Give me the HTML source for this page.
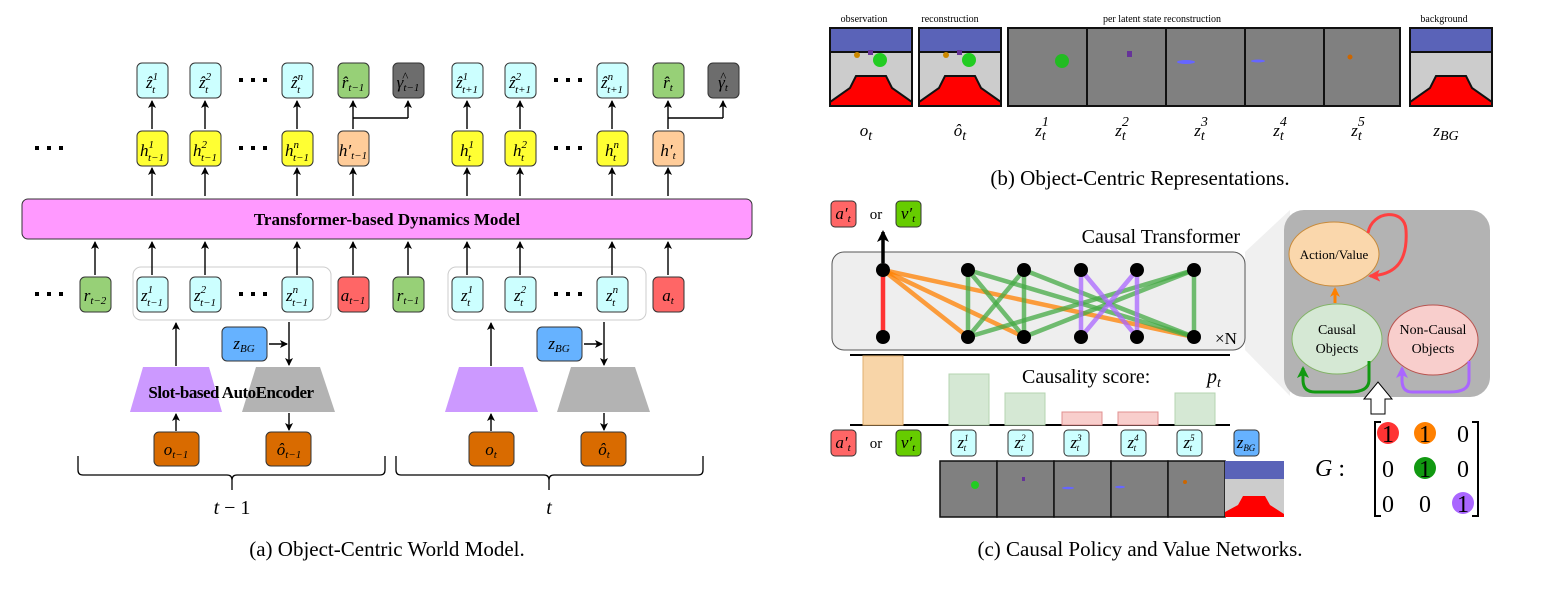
<!DOCTYPE html>
<html><head><meta charset="utf-8"><style>
html,body{margin:0;padding:0;background:#fff;}
svg{display:block;}
text{font-family:"Liberation Serif",serif;}
.m{font-style:italic;font-size:17px;}
.s{font-size:11px;}
</style></head><body>
<svg width="1546" height="596" viewBox="0 0 1546 596" xmlns="http://www.w3.org/2000/svg">
<defs>
<marker id="ar" markerWidth="8" markerHeight="8" refX="7" refY="4" orient="auto" markerUnits="userSpaceOnUse"><path d="M0,0 L8,4 L0,8 L2,4 z" fill="#000"/></marker>
<marker id="arO" markerWidth="10" markerHeight="10" refX="8" refY="5" orient="auto" markerUnits="userSpaceOnUse"><path d="M0,0 L10,5 L0,10 L3,5 z" fill="#ff8000"/></marker>
<marker id="arR" markerWidth="12" markerHeight="12" refX="10" refY="6" orient="auto" markerUnits="userSpaceOnUse"><path d="M0,0 L12,6 L0,12 L3,6 z" fill="#ff4040"/></marker>
<marker id="arG" markerWidth="12" markerHeight="12" refX="10" refY="6" orient="auto" markerUnits="userSpaceOnUse"><path d="M0,0 L12,6 L0,12 L3,6 z" fill="#119911"/></marker>
<marker id="arP" markerWidth="12" markerHeight="12" refX="10" refY="6" orient="auto" markerUnits="userSpaceOnUse"><path d="M0,0 L12,6 L0,12 L3,6 z" fill="#aa66ff"/></marker>
<marker id="arB" markerWidth="12" markerHeight="12" refX="10" refY="6" orient="auto" markerUnits="userSpaceOnUse"><path d="M0,0 L12,6 L0,12 L3,6 z" fill="#000"/></marker>
<g id="d3"><rect x="0" y="0" width="4" height="4"/><rect x="12" y="0" width="4" height="4"/><rect x="24" y="0" width="4" height="4"/></g>
<g id="scene">
<rect x="0" y="0" width="82" height="78" fill="#ccc"/>
<rect x="0" y="0" width="82" height="24" fill="#5a63b8"/>
<polygon points="26,48 56,48 62,60 82,74 82,78 0,78 0,74 20,60" fill="#f00"/>
</g>
</defs>

<!-- ===== Panel (a) ===== -->
<g stroke="#333" stroke-width="1">
<rect x="137" y="63" width="31" height="35" rx="5" fill="#ccffff"/>
<rect x="190" y="63" width="31" height="35" rx="5" fill="#ccffff"/>
<rect x="282" y="63" width="31" height="35" rx="5" fill="#ccffff"/>
<rect x="338" y="63" width="31" height="35" rx="5" fill="#97d077"/>
<rect x="393" y="63" width="31" height="35" rx="5" fill="#6d6d6d"/>
<rect x="452" y="63" width="31" height="35" rx="5" fill="#ccffff"/>
<rect x="505" y="63" width="31" height="35" rx="5" fill="#ccffff"/>
<rect x="597" y="63" width="31" height="35" rx="5" fill="#ccffff"/>
<rect x="653" y="63" width="31" height="35" rx="5" fill="#97d077"/>
<rect x="708" y="63" width="31" height="35" rx="5" fill="#6d6d6d"/>
<rect x="137" y="131" width="31" height="35" rx="5" fill="#ffff33"/>
<rect x="190" y="131" width="31" height="35" rx="5" fill="#ffff33"/>
<rect x="282" y="131" width="31" height="35" rx="5" fill="#ffff33"/>
<rect x="338" y="131" width="31" height="35" rx="5" fill="#ffcc99"/>
<rect x="452" y="131" width="31" height="35" rx="5" fill="#ffff33"/>
<rect x="505" y="131" width="31" height="35" rx="5" fill="#ffff33"/>
<rect x="597" y="131" width="31" height="35" rx="5" fill="#ffff33"/>
<rect x="653" y="131" width="31" height="35" rx="5" fill="#ffcc99"/>
<rect x="22" y="199" width="730" height="40" rx="6" fill="#ff99ff"/>
<rect x="133" y="267" width="198" height="53" rx="8" fill="none" stroke="#ccc"/>
<rect x="448" y="267" width="198" height="53" rx="8" fill="none" stroke="#ccc"/>
<rect x="80" y="277" width="31" height="35" rx="5" fill="#97d077"/>
<rect x="137" y="277" width="31" height="35" rx="5" fill="#ccffff"/>
<rect x="190" y="277" width="31" height="35" rx="5" fill="#ccffff"/>
<rect x="282" y="277" width="31" height="35" rx="5" fill="#ccffff"/>
<rect x="338" y="277" width="31" height="35" rx="5" fill="#ff6666"/>
<rect x="393" y="277" width="31" height="35" rx="5" fill="#97d077"/>
<rect x="452" y="277" width="31" height="35" rx="5" fill="#ccffff"/>
<rect x="505" y="277" width="31" height="35" rx="5" fill="#ccffff"/>
<rect x="597" y="277" width="31" height="35" rx="5" fill="#ccffff"/>
<rect x="653" y="277" width="31" height="35" rx="5" fill="#ff6666"/>
<rect x="222" y="327" width="45" height="34" rx="5" fill="#66b2ff"/>
<rect x="537" y="327" width="45" height="34" rx="5" fill="#66b2ff"/>
<rect x="154" y="432" width="45" height="34" rx="5" fill="#d96b00"/>
<rect x="266" y="432" width="45" height="34" rx="5" fill="#d96b00"/>
<rect x="469" y="432" width="45" height="34" rx="5" fill="#d96b00"/>
<rect x="581" y="432" width="45" height="34" rx="5" fill="#d96b00"/>
</g>
<polygon points="143,367 209,367 222,412 130,412" fill="#cc99ff"/>
<polygon points="256,367 320,367 335,412 242,412" fill="#b3b3b3"/>
<polygon points="459,367 523,367 538,412 445,412" fill="#cc99ff"/>
<polygon points="571,367 635,367 650,412 557,412" fill="#b3b3b3"/>
<text x="231" y="398" text-anchor="middle" font-weight="bold" font-size="17" style="letter-spacing:-0.5px">Slot-based AutoEncoder</text>

<g stroke="#000" stroke-width="1.4" marker-end="url(#ar)">
<line x1="152" y1="129" x2="152" y2="101"/><line x1="205" y1="129" x2="205" y2="101"/><line x1="297" y1="129" x2="297" y2="101"/><line x1="353" y1="129" x2="353" y2="101"/>
<line x1="467" y1="129" x2="467" y2="101"/><line x1="520" y1="129" x2="520" y2="101"/><line x1="612" y1="129" x2="612" y2="101"/><line x1="668" y1="129" x2="668" y2="101"/>
<line x1="408" y1="118" x2="408" y2="101"/><line x1="723" y1="118" x2="723" y2="101"/>
<line x1="152" y1="196" x2="152" y2="168"/><line x1="205" y1="196" x2="205" y2="168"/><line x1="297" y1="196" x2="297" y2="168"/><line x1="353" y1="196" x2="353" y2="168"/>
<line x1="467" y1="196" x2="467" y2="168"/><line x1="520" y1="196" x2="520" y2="168"/><line x1="612" y1="196" x2="612" y2="168"/><line x1="668" y1="196" x2="668" y2="168"/>
<line x1="95" y1="275" x2="95" y2="242"/><line x1="152" y1="275" x2="152" y2="242"/><line x1="205" y1="275" x2="205" y2="242"/><line x1="297" y1="275" x2="297" y2="242"/><line x1="353" y1="275" x2="353" y2="242"/><line x1="408" y1="275" x2="408" y2="242"/>
<line x1="467" y1="275" x2="467" y2="242"/><line x1="520" y1="275" x2="520" y2="242"/><line x1="612" y1="275" x2="612" y2="242"/><line x1="668" y1="275" x2="668" y2="242"/>
<line x1="176" y1="366" x2="176" y2="323"/><line x1="491" y1="366" x2="491" y2="323"/>
<line x1="289" y1="322" x2="289" y2="365"/><line x1="604" y1="322" x2="604" y2="365"/>
<line x1="269" y1="344" x2="287" y2="344"/><line x1="584" y1="344" x2="602" y2="344"/>
<line x1="176" y1="431" x2="176" y2="414"/><line x1="491" y1="431" x2="491" y2="414"/>
<line x1="289" y1="413" x2="289" y2="430"/><line x1="604" y1="413" x2="604" y2="430"/>
</g>
<path d="M353,118 H408 M668,118 H723" stroke="#000" stroke-width="1.4"/>
<g fill="#000">
<use href="#d3" x="35" y="146"/><use href="#d3" x="35" y="292"/>
<use href="#d3" x="239" y="78"/><use href="#d3" x="554" y="78"/>
<use href="#d3" x="239" y="146"/><use href="#d3" x="554" y="146"/>
<use href="#d3" x="239" y="292"/><use href="#d3" x="554" y="292"/>
</g>
<text x="387" y="225" text-anchor="middle" font-weight="bold" font-size="17">Transformer-based Dynamics Model</text>

<g class="m" text-anchor="middle">
<text x="152" y="88">ẑ<tspan class="s" dy="-8">1</tspan><tspan class="s" dx="-6" dy="13">t</tspan></text>
<text x="205" y="88">ẑ<tspan class="s" dy="-8">2</tspan><tspan class="s" dx="-6" dy="13">t</tspan></text>
<text x="297" y="88">ẑ<tspan class="s" dy="-8">n</tspan><tspan class="s" dx="-6" dy="13">t</tspan></text>
<text x="353" y="88">r̂<tspan class="s" dy="3">t−1</tspan></text>
<text x="408" y="88">γ<tspan class="s" dy="3">t−1</tspan></text>
<text x="467" y="88">ẑ<tspan class="s" dy="-8">1</tspan><tspan class="s" dx="-6" dy="13">t+1</tspan></text>
<text x="520" y="88">ẑ<tspan class="s" dy="-8">2</tspan><tspan class="s" dx="-6" dy="13">t+1</tspan></text>
<text x="612" y="88">ẑ<tspan class="s" dy="-8">n</tspan><tspan class="s" dx="-6" dy="13">t+1</tspan></text>
<text x="668" y="88">r̂<tspan class="s" dy="3">t</tspan></text>
<text x="723" y="88">γ<tspan class="s" dy="3">t</tspan></text>
<text x="152" y="156">h<tspan class="s" dy="-8">1</tspan><tspan class="s" dx="-6" dy="13">t−1</tspan></text>
<text x="205" y="156">h<tspan class="s" dy="-8">2</tspan><tspan class="s" dx="-6" dy="13">t−1</tspan></text>
<text x="297" y="156">h<tspan class="s" dy="-8">n</tspan><tspan class="s" dx="-6" dy="13">t−1</tspan></text>
<text x="353" y="156">h′<tspan class="s" dy="3">t−1</tspan></text>
<text x="467" y="156">h<tspan class="s" dy="-8">1</tspan><tspan class="s" dx="-6" dy="13">t</tspan></text>
<text x="520" y="156">h<tspan class="s" dy="-8">2</tspan><tspan class="s" dx="-6" dy="13">t</tspan></text>
<text x="612" y="156">h<tspan class="s" dy="-8">n</tspan><tspan class="s" dx="-6" dy="13">t</tspan></text>
<text x="668" y="156">h′<tspan class="s" dy="3">t</tspan></text>
<text x="95" y="301">r<tspan class="s" dy="3">t−2</tspan></text>
<text x="152" y="301">z<tspan class="s" dy="-8">1</tspan><tspan class="s" dx="-6" dy="13">t−1</tspan></text>
<text x="205" y="301">z<tspan class="s" dy="-8">2</tspan><tspan class="s" dx="-6" dy="13">t−1</tspan></text>
<text x="297" y="301">z<tspan class="s" dy="-8">n</tspan><tspan class="s" dx="-6" dy="13">t−1</tspan></text>
<text x="353" y="301">a<tspan class="s" dy="3">t−1</tspan></text>
<text x="408" y="301">r<tspan class="s" dy="3">t−1</tspan></text>
<text x="467" y="301">z<tspan class="s" dy="-8">1</tspan><tspan class="s" dx="-6" dy="13">t</tspan></text>
<text x="520" y="301">z<tspan class="s" dy="-8">2</tspan><tspan class="s" dx="-6" dy="13">t</tspan></text>
<text x="612" y="301">z<tspan class="s" dy="-8">n</tspan><tspan class="s" dx="-6" dy="13">t</tspan></text>
<text x="668" y="301">a<tspan class="s" dy="3">t</tspan></text>
<text x="244" y="349">z<tspan class="s" dy="3">BG</tspan></text>
<text x="559" y="349">z<tspan class="s" dy="3">BG</tspan></text>
<text x="176" y="455">o<tspan class="s" dy="3">t−1</tspan></text>
<text x="289" y="455">ô<tspan class="s" dy="3">t−1</tspan></text>
<text x="491" y="455">o<tspan class="s" dy="3">t</tspan></text>
<text x="604" y="455">ô<tspan class="s" dy="3">t</tspan></text>
</g>
<text x="402" y="81" font-size="13" font-style="italic">^</text>
<text x="720" y="81" font-size="13" font-style="italic">^</text>
<path d="M78,456 V470 Q78,475 83,475 H227 Q232,475 232,480 Q232,475 237,475 H380 Q385,475 385,470 V456 M232,480 V490" fill="none" stroke="#000" stroke-width="1.3"/>
<path d="M396,456 V470 Q396,475 401,475 H544 Q549,475 549,480 Q549,475 554,475 H698 Q703,475 703,470 V456 M549,480 V490" fill="none" stroke="#000" stroke-width="1.3"/>
<text x="232" y="514" text-anchor="middle" font-size="20" font-style="italic">t <tspan font-style="normal">− 1</tspan></text>
<text x="549" y="514" text-anchor="middle" font-size="20" font-style="italic">t</text>
<text x="387" y="556" text-anchor="middle" font-size="21">(a) Object-Centric World Model.</text>

<!-- ===== Panel (b) ===== -->
<g font-size="10" text-anchor="middle">
<text x="864" y="22">observation</text><text x="950" y="22">reconstruction</text>
<text x="1162" y="22">per latent state reconstruction</text><text x="1444" y="22">background</text>
</g>
<g stroke="#111" stroke-width="2">
<use href="#scene" x="830" y="28"/><rect x="830" y="28" width="82" height="78" fill="none"/>
<use href="#scene" x="919" y="28"/><rect x="919" y="28" width="82" height="78" fill="none"/>
<use href="#scene" x="1410" y="28"/><rect x="1410" y="28" width="82" height="78" fill="none"/>
<rect x="1008" y="28" width="79" height="78" fill="#808080"/>
<rect x="1087" y="28" width="79" height="78" fill="#808080"/>
<rect x="1166" y="28" width="79" height="78" fill="#808080"/>
<rect x="1245" y="28" width="79" height="78" fill="#808080"/>
<rect x="1324" y="28" width="76" height="78" fill="#808080"/>
</g>
<circle cx="880" cy="60" r="7" fill="#22cc22"/><circle cx="969" cy="60" r="7" fill="#22cc22"/>
<circle cx="857" cy="55" r="3" fill="#c80"/><rect x="868" y="50" width="5" height="5" fill="#639"/>
<circle cx="946" cy="55" r="3" fill="#c80"/><rect x="957" y="50" width="5" height="5" fill="#639"/>
<circle cx="1062" cy="61" r="7" fill="#22bb22"/><rect x="1127" y="51" width="5" height="6" fill="#639"/>
<ellipse cx="1186" cy="62" rx="9" ry="2" fill="#66f"/><ellipse cx="1258" cy="61" rx="7" ry="1.5" fill="#66f"/>
<circle cx="1350" cy="57" r="2.5" fill="#c60"/>
<g class="m" font-size="20" text-anchor="middle">
<text x="866" y="136">o<tspan font-size="14" dy="4">t</tspan></text>
<text x="960" y="136">ô<tspan font-size="14" dy="4">t</tspan></text>
<text x="1042" y="136">z<tspan font-size="14" dy="-10">1</tspan><tspan font-size="14" dx="-7" dy="14">t</tspan></text>
<text x="1122" y="136">z<tspan font-size="14" dy="-10">2</tspan><tspan font-size="14" dx="-7" dy="14">t</tspan></text>
<text x="1201" y="136">z<tspan font-size="14" dy="-10">3</tspan><tspan font-size="14" dx="-7" dy="14">t</tspan></text>
<text x="1280" y="136">z<tspan font-size="14" dy="-10">4</tspan><tspan font-size="14" dx="-7" dy="14">t</tspan></text>
<text x="1358" y="136">z<tspan font-size="14" dy="-10">5</tspan><tspan font-size="14" dx="-7" dy="14">t</tspan></text>
<text x="1446" y="136">z<tspan font-size="14" dy="4">BG</tspan></text>
</g>
<text x="1140" y="185" text-anchor="middle" font-size="21">(b) Object-Centric Representations.</text>

<!-- ===== Panel (c) ===== -->
<polygon points="1245,252 1290,210 1290,396 1245,350" fill="#f0f0f0"/>
<rect x="1284" y="210" width="206" height="187" rx="20" fill="#b3b3b3"/>
<rect x="832" y="252" width="413" height="98" rx="12" fill="#eeeeee" stroke="#555"/>
<g stroke-width="4.5" stroke-opacity="0.75" fill="none">
<g stroke="#ff8000"><line x1="883" y1="270" x2="968" y2="337"/><line x1="883" y1="270" x2="1024" y2="337"/><line x1="883" y1="270" x2="1194" y2="337"/></g>
<g stroke="#44aa44"><line x1="968" y1="270" x2="968" y2="337"/><line x1="968" y1="270" x2="1024" y2="337"/><line x1="968" y1="270" x2="1194" y2="337"/>
<line x1="1024" y1="270" x2="968" y2="337"/><line x1="1024" y1="270" x2="1024" y2="337"/><line x1="1024" y1="270" x2="1194" y2="337"/>
<line x1="1194" y1="270" x2="968" y2="337"/><line x1="1194" y1="270" x2="1024" y2="337"/><line x1="1194" y1="270" x2="1194" y2="337"/></g>
<g stroke="#aa66ff"><line x1="1081" y1="270" x2="1081" y2="337"/><line x1="1081" y1="270" x2="1137" y2="337"/><line x1="1137" y1="270" x2="1081" y2="337"/><line x1="1137" y1="270" x2="1137" y2="337"/></g>
<line x1="883" y1="270" x2="883" y2="337" stroke="#ff3333" stroke-opacity="1"/>
</g>
<g fill="#000">
<circle cx="883" cy="270" r="7"/><circle cx="968" cy="270" r="7"/><circle cx="1024" cy="270" r="7"/><circle cx="1081" cy="270" r="7"/><circle cx="1137" cy="270" r="7"/><circle cx="1194" cy="270" r="7"/>
<circle cx="883" cy="337" r="7"/><circle cx="968" cy="337" r="7"/><circle cx="1024" cy="337" r="7"/><circle cx="1081" cy="337" r="7"/><circle cx="1137" cy="337" r="7"/><circle cx="1194" cy="337" r="7"/>
</g>
<line x1="883" y1="263" x2="883" y2="232" stroke="#000" stroke-width="3.5" marker-end="url(#arB)"/>
<text x="1215" y="344" font-size="17">×N</text>
<text x="1240" y="243" text-anchor="end" font-size="20">Causal Transformer</text>
<line x1="850" y1="355" x2="1230" y2="355" stroke="#000" stroke-width="2"/>
<line x1="850" y1="425" x2="1230" y2="425" stroke="#000" stroke-width="2"/>
<rect x="863" y="356" width="40" height="69" fill="#f8d5a8" stroke="#e0b070"/>
<rect x="949" y="374" width="40" height="51" fill="#d5e8d4" stroke="#b5d4b0"/>
<rect x="1005" y="393" width="40" height="32" fill="#d5e8d4" stroke="#b5d4b0"/>
<rect x="1062" y="412" width="40" height="13" fill="#f8cecc" stroke="#e09090"/>
<rect x="1118" y="412" width="40" height="13" fill="#f8cecc" stroke="#e09090"/>
<rect x="1175" y="393" width="40" height="32" fill="#d5e8d4" stroke="#b5d4b0"/>
<text x="1022" y="383" font-size="20">Causality score:</text>
<text x="1207" y="383" font-size="20" font-style="italic">p<tspan font-size="14" dy="4">t</tspan></text>

<g stroke="#333">
<rect x="831" y="201" width="25" height="26" rx="4" fill="#ff6666"/><rect x="896" y="201" width="25" height="26" rx="4" fill="#66cc00"/>
<rect x="831" y="430" width="25" height="26" rx="4" fill="#ff6666"/><rect x="896" y="430" width="25" height="26" rx="4" fill="#66cc00"/>
<rect x="951" y="430" width="25" height="26" rx="4" fill="#ccffff"/><rect x="1008" y="430" width="25" height="26" rx="4" fill="#ccffff"/>
<rect x="1064" y="430" width="25" height="26" rx="4" fill="#ccffff"/><rect x="1121" y="430" width="25" height="26" rx="4" fill="#ccffff"/>
<rect x="1177" y="430" width="25" height="26" rx="4" fill="#ccffff"/><rect x="1234" y="430" width="25" height="26" rx="4" fill="#66b2ff"/>
</g>
<g class="m" font-size="15" text-anchor="middle">
<text x="843" y="219">a′<tspan class="s" dy="3">t</tspan></text><text x="908" y="219">v′<tspan class="s" dy="3">t</tspan></text>
<text x="843" y="448">a′<tspan class="s" dy="3">t</tspan></text><text x="908" y="448">v′<tspan class="s" dy="3">t</tspan></text>
<text x="963" y="448">z<tspan font-size="9" dy="-7">1</tspan><tspan font-size="9" dx="-5" dy="10">t</tspan></text>
<text x="1020" y="448">z<tspan font-size="9" dy="-7">2</tspan><tspan font-size="9" dx="-5" dy="10">t</tspan></text>
<text x="1076" y="448">z<tspan font-size="9" dy="-7">3</tspan><tspan font-size="9" dx="-5" dy="10">t</tspan></text>
<text x="1133" y="448">z<tspan font-size="9" dy="-7">4</tspan><tspan font-size="9" dx="-5" dy="10">t</tspan></text>
<text x="1189" y="448">z<tspan font-size="9" dy="-7">5</tspan><tspan font-size="9" dx="-5" dy="10">t</tspan></text>
<text x="1246" y="448">z<tspan font-size="9" dy="3">BG</tspan></text>
</g>
<text x="876" y="219" font-size="15" text-anchor="middle">or</text>
<text x="876" y="448" font-size="15" text-anchor="middle">or</text>
<g stroke="#111" stroke-width="1.5">
<rect x="940" y="461" width="57" height="56" fill="#808080"/><rect x="997" y="461" width="57" height="56" fill="#808080"/>
<rect x="1054" y="461" width="57" height="56" fill="#808080"/><rect x="1111" y="461" width="57" height="56" fill="#808080"/>
<rect x="1168" y="461" width="57" height="56" fill="#808080"/>
</g>
<rect x="1225" y="461" width="59" height="56" fill="#ccc"/><rect x="1225" y="461" width="59" height="18" fill="#5a63b8"/>
<polygon points="1243,496 1265,496 1270,505 1284,514 1284,517 1225,517 1225,512 1238,505" fill="#f00"/>
<circle cx="975" cy="485" r="4" fill="#22cc22"/><rect x="1022" y="477" width="3" height="4" fill="#639"/>
<ellipse cx="1068" cy="488" rx="6" ry="1.3" fill="#66f"/><ellipse cx="1120" cy="487" rx="5" ry="1.2" fill="#66f"/><circle cx="1185" cy="482" r="2" fill="#c60"/>

<ellipse cx="1334" cy="254" rx="45" ry="32" fill="#fad7ac" stroke="#c88a3a"/>
<ellipse cx="1337" cy="339" rx="45" ry="35" fill="#d5e8d4" stroke="#82b366"/>
<ellipse cx="1433" cy="340" rx="45" ry="35" fill="#f8cecc" stroke="#b85450"/>
<text x="1334" y="259" text-anchor="middle" font-size="13">Action/Value</text>
<text x="1337" y="334" text-anchor="middle" font-size="14">Causal</text><text x="1337" y="353" text-anchor="middle" font-size="14">Objects</text>
<text x="1433" y="334" text-anchor="middle" font-size="14">Non-Causal</text><text x="1433" y="353" text-anchor="middle" font-size="14">Objects</text>
<line x1="1335" y1="303" x2="1335" y2="289" stroke="#ff8000" stroke-width="3" marker-end="url(#arO)"/>
<path d="M1368,233 C1372,210 1405,208 1406,230 C1408,262 1395,275 1370,276" fill="none" stroke="#ff4040" stroke-width="3" marker-end="url(#arR)"/>
<path d="M1369,361 V380 Q1369,392 1350,392 H1315 Q1303,392 1303,380 V368" fill="none" stroke="#119911" stroke-width="3" marker-end="url(#arG)"/>
<path d="M1469,361 V380 Q1469,392 1450,392 H1412 Q1402,392 1402,380 V368" fill="none" stroke="#aa66ff" stroke-width="3" marker-end="url(#arP)"/>
<polygon points="1364,399 1378,382 1392,399 1385,399 1385,414 1371,414 1371,399" fill="#fff" stroke="#000" stroke-width="1"/>
<path d="M1381,422 H1375 V516 H1381 M1472,422 H1478 V516 H1472" fill="none" stroke="#000" stroke-width="2"/>
<circle cx="1388" cy="433" r="11" fill="#ff3333"/><circle cx="1425" cy="433" r="11" fill="#ff8000"/>
<circle cx="1425" cy="468" r="11" fill="#119911"/><circle cx="1463" cy="503" r="11" fill="#aa66ff"/>
<g font-size="24" text-anchor="middle">
<text x="1388" y="442">1</text><text x="1425" y="442">1</text><text x="1463" y="442">0</text>
<text x="1388" y="477">0</text><text x="1425" y="477">1</text><text x="1463" y="477">0</text>
<text x="1388" y="512">0</text><text x="1425" y="512">0</text><text x="1463" y="512">1</text>
</g>
<text x="1330" y="476" text-anchor="middle" font-size="24"><tspan font-style="italic">G</tspan> :</text>
<text x="1140" y="556" text-anchor="middle" font-size="21">(c) Causal Policy and Value Networks.</text>
</svg>
</body></html>
